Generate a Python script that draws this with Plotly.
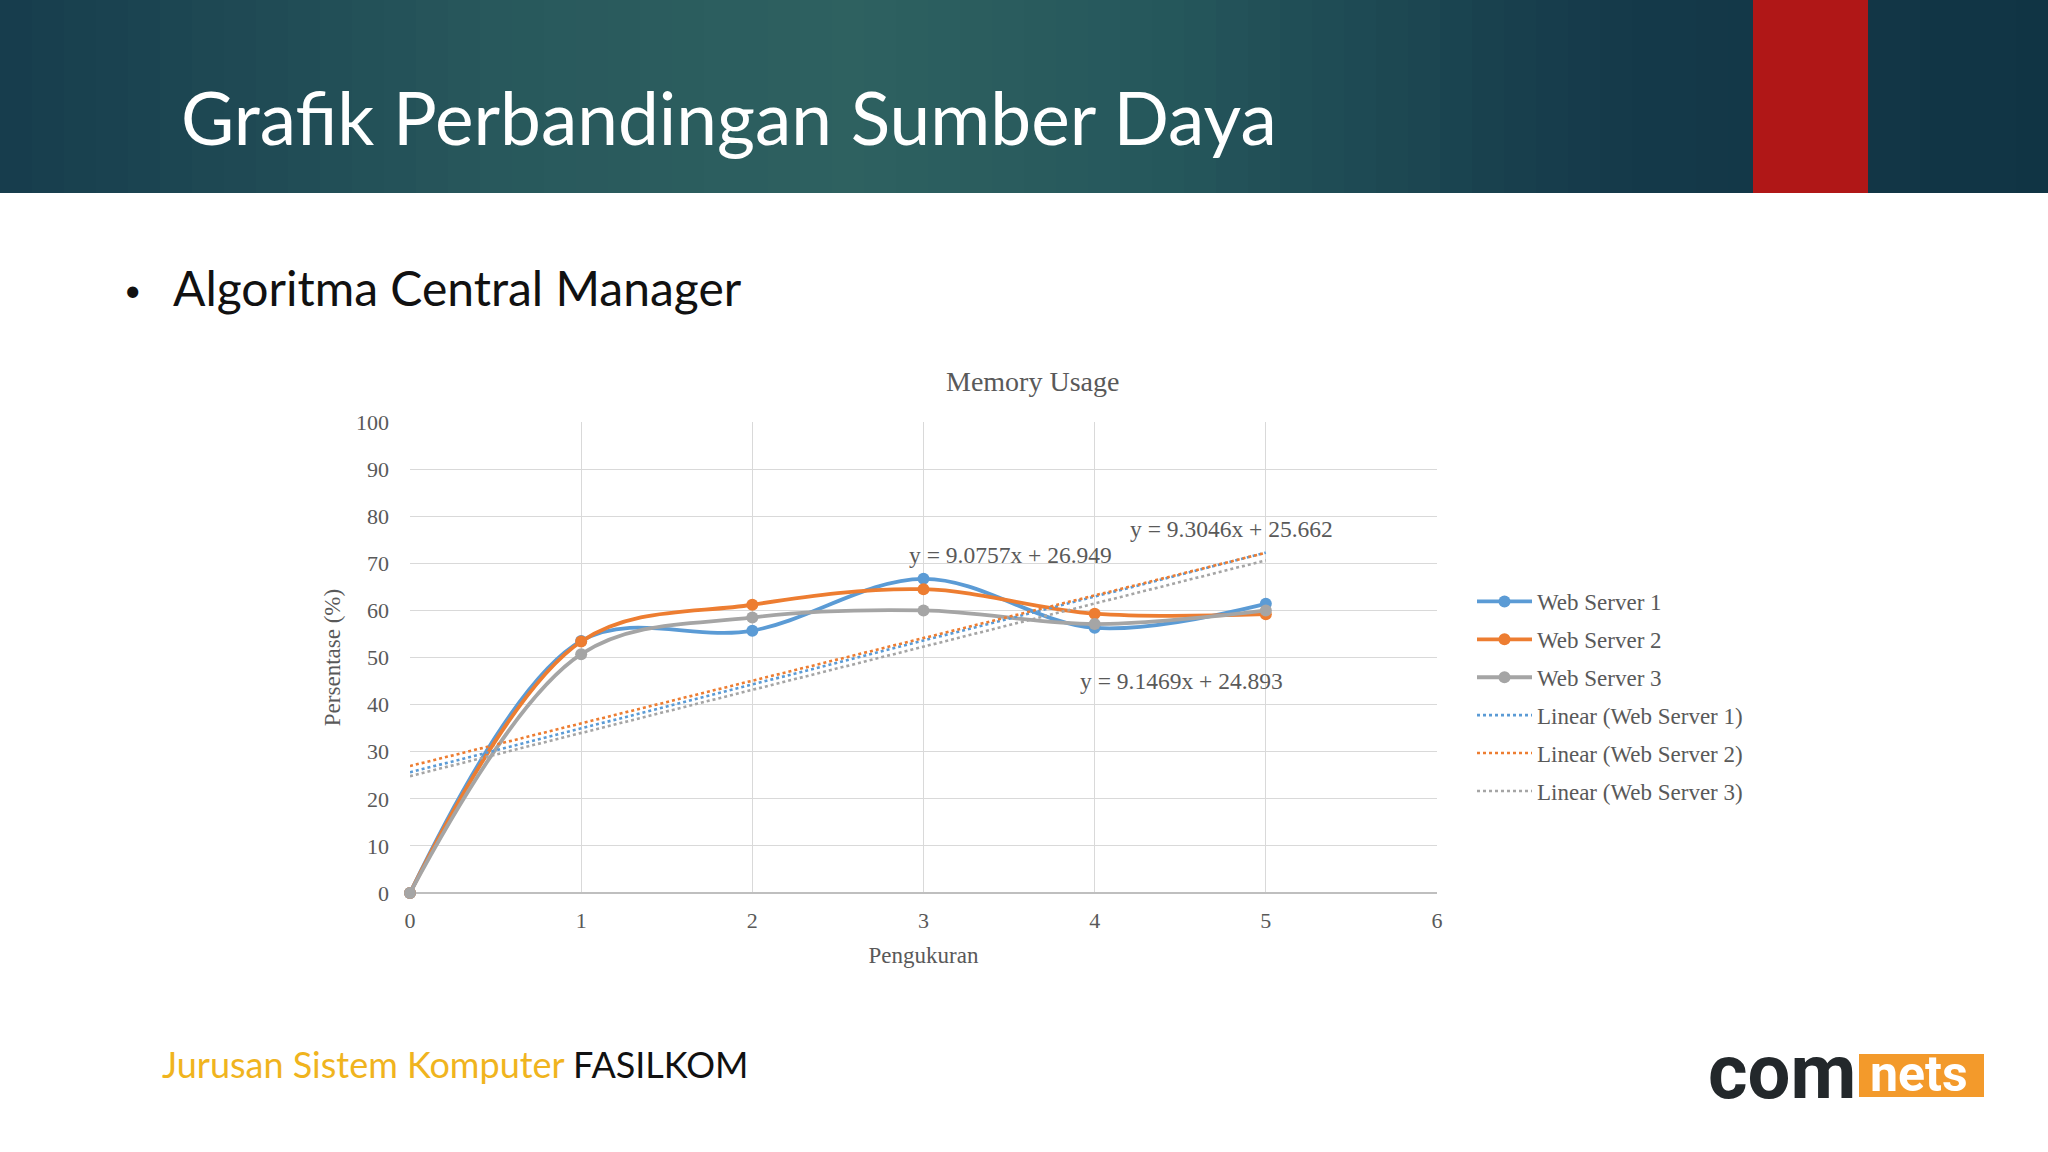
import numpy as np
import plotly.graph_objects as go

# ---------------- data ----------------
x_vals = [0, 1, 2, 3, 4, 5]
ws1 = [0, 53.5, 55.7, 66.7, 56.3, 61.4]
ws2 = [0, 53.4, 61.2, 64.5, 59.3, 59.2]
ws3 = [0, 50.7, 58.5, 60.0, 57.1, 60.0]
series_names = ["Web Server 1", "Web Server 2", "Web Server 3"]
trend_names = ["Linear (Web Server 1)", "Linear (Web Server 2)", "Linear (Web Server 3)"]
equations = ["y = 9.3046x + 25.662", "y = 9.0757x + 26.949", "y = 9.1469x + 24.893"]
y_ticks = [0, 10, 20, 30, 40, 50, 60, 70, 80, 90, 100]
x_ticks = [0, 1, 2, 3, 4, 5, 6]

colors = ["#5B9BD5", "#ED7D31", "#A5A5A5"]
W, H = 2048, 1152
TXT = "#595959"
SERIF = "Liberation Serif, Times New Roman, serif"

fig = go.Figure()

# linear trendlines fitted from the data
trend_traces = []
for i, (vals, name, c) in enumerate(zip([ws1, ws2, ws3], trend_names, colors)):
    m, b = np.polyfit(x_vals, vals, 1)
    xt = np.array([x_vals[0], x_vals[-1]], dtype=float)
    trend_traces.append(go.Scatter(
        x=xt, y=m * xt + b, name=name, mode="lines", legendgroup="t%d" % i,
        legendrank=1000 + i,
        line=dict(color=c, width=2.6, dash="dot"),
    ))

# main series
for i, (vals, name, c) in enumerate(zip([ws1, ws2, ws3], series_names, colors)):
    fig.add_trace(go.Scatter(
        x=x_vals, y=vals, name=name, mode="lines+markers", legendgroup="s%d" % i,
        legendrank=100 + i, cliponaxis=False,
        line=dict(color=c, width=3.8, shape="spline", smoothing=1.0),
        marker=dict(color=c, size=12),
    ))
for tr in trend_traces:
    fig.add_trace(tr)

# ---------------- layout ----------------
px0, px1 = 410, 1437
py0, py1 = 422, 893
fig.update_layout(
    width=W, height=H, autosize=False,
    margin=dict(l=0, r=0, t=0, b=0),
    paper_bgcolor="white", plot_bgcolor="white",
    showlegend=True,
    legend=dict(
        x=1472 / W, y=1 - 580 / H, xanchor="left", yanchor="top",
        font=dict(family=SERIF, size=23, color=TXT),
        bgcolor="rgba(0,0,0,0)", itemwidth=55, tracegroupgap=5,
    ),
    xaxis=dict(
        domain=[px0 / W, px1 / W], range=[0, 6], tickvals=x_ticks, automargin=False,
        showgrid=True, gridcolor="#D9D9D9", gridwidth=1.3, zeroline=False,
        showline=False, ticks="", ticklabelstandoff=12,
        tickfont=dict(family=SERIF, size=22, color=TXT),
        title=dict(text="Pengukuran", font=dict(family=SERIF, size=23, color=TXT), standoff=14),
    ),
    yaxis=dict(
        domain=[1 - py1 / H, 1 - py0 / H], range=[0, 100], tickvals=y_ticks, automargin=False,
        showgrid=True, gridcolor="#D9D9D9", gridwidth=1.3, zeroline=True,
        zerolinecolor="#BFBFBF", zerolinewidth=1.5, showline=False, ticks="",
        ticklabelstandoff=20,
        tickfont=dict(family=SERIF, size=22, color=TXT),
        title=dict(text="Persentase (%)", font=dict(family=SERIF, size=23, color=TXT), standoff=8),
    ),
)

shapes = []
# header gradient (vertical strips)
def lerp(c1, c2, t):
    return tuple(int(round(a + (b - a) * t)) for a, b in zip(c1, c2))

stops = [(0, (22, 60, 76)), (500, (40, 88, 92)), (850, (46, 97, 96)),
         (1150, (38, 88, 92)), (1600, (21, 58, 74)), (2048, (16, 52, 68))]
n = 64
for i in range(n):
    xa = W * i / n
    xb = W * (i + 1) / n + 1
    xm = (xa + xb) / 2
    for (s0, c0), (s1, c1) in zip(stops[:-1], stops[1:]):
        if s0 <= xm <= s1:
            col = lerp(c0, c1, (xm - s0) / (s1 - s0))
            break
    shapes.append(dict(type="rect", xref="paper", yref="paper",
                       x0=xa / W, x1=xb / W, y0=1 - 193 / H, y1=1,
                       fillcolor="rgb(%d,%d,%d)" % col, line=dict(width=0), layer="below"))
# red bar
shapes.append(dict(type="rect", xref="paper", yref="paper",
                   x0=1753 / W, x1=1868 / W, y0=1 - 193 / H, y1=1,
                   fillcolor="#B01717", line=dict(width=0), layer="below"))
# logo orange box
shapes.append(dict(type="rect", xref="paper", yref="paper",
                   x0=1859 / W, x1=1984 / W, y0=1 - 1097 / H, y1=1 - 1054 / H,
                   fillcolor="#F39A2B", line=dict(width=0), layer="below"))
fig.update_layout(shapes=shapes)

ann = []
ann.append(dict(text="Grafik Perbandingan Sumber Daya", xref="paper", yref="paper",
                x=179 / W, y=1 - 117 / H, xanchor="left", yanchor="middle", showarrow=False,
                font=dict(family="Lato", size=73, color="white")))
ann.append(dict(text="•", xref="paper", yref="paper",
                x=122 / W, y=1 - 289 / H, xanchor="left", yanchor="middle", showarrow=False,
                font=dict(family="Lato", size=30, color="#111111")))
ann.append(dict(text="Algoritma Central Manager", xref="paper", yref="paper",
                x=171 / W, y=1 - 287 / H, xanchor="left", yanchor="middle", showarrow=False,
                font=dict(family="Lato", size=48, color="#111111")))
ann.append(dict(text="Memory Usage", xref="paper", yref="paper",
                x=1032 / W, y=1 - 381 / H, xanchor="center", yanchor="middle", showarrow=False,
                font=dict(family=SERIF, size=28, color=TXT)))
# equation labels (data coords)
eq_pos = [(4.80, 77.3), (3.51, 71.8), (4.51, 45.1)]
for (ex, ey), t in zip(eq_pos, equations):
    ann.append(dict(text=t, x=ex, y=ey, xref="x", yref="y", showarrow=False,
                    xanchor="center", yanchor="middle",
                    font=dict(family=SERIF, size=23.5, color=TXT)))
ann.append(dict(text='<span style="color:#F0B41E">Jurusan Sistem Komputer</span> FASILKOM',
                xref="paper", yref="paper", x=160 / W, y=1 - 1064 / H,
                xanchor="left", yanchor="middle", showarrow=False,
                font=dict(family="Lato", size=36, color="#111111")))
ann.append(dict(text="<b>com</b>", xref="paper", yref="paper", x=1858 / W, y=1 - 1072 / H,
                xanchor="right", yanchor="middle", showarrow=False,
                font=dict(family="Roboto", size=76, color="#23282B")))
ann.append(dict(text="<b>nets</b>", xref="paper", yref="paper", x=1919 / W, y=1 - 1074 / H,
                xanchor="center", yanchor="middle", showarrow=False,
                font=dict(family="Roboto", size=50, color="white")))
fig.update_layout(annotations=ann)

fig.write_html(
    "out.html",
    config={"displayModeBar": False},
    post_script="document.body.style.margin='0';document.body.style.overflow='hidden';",
)
